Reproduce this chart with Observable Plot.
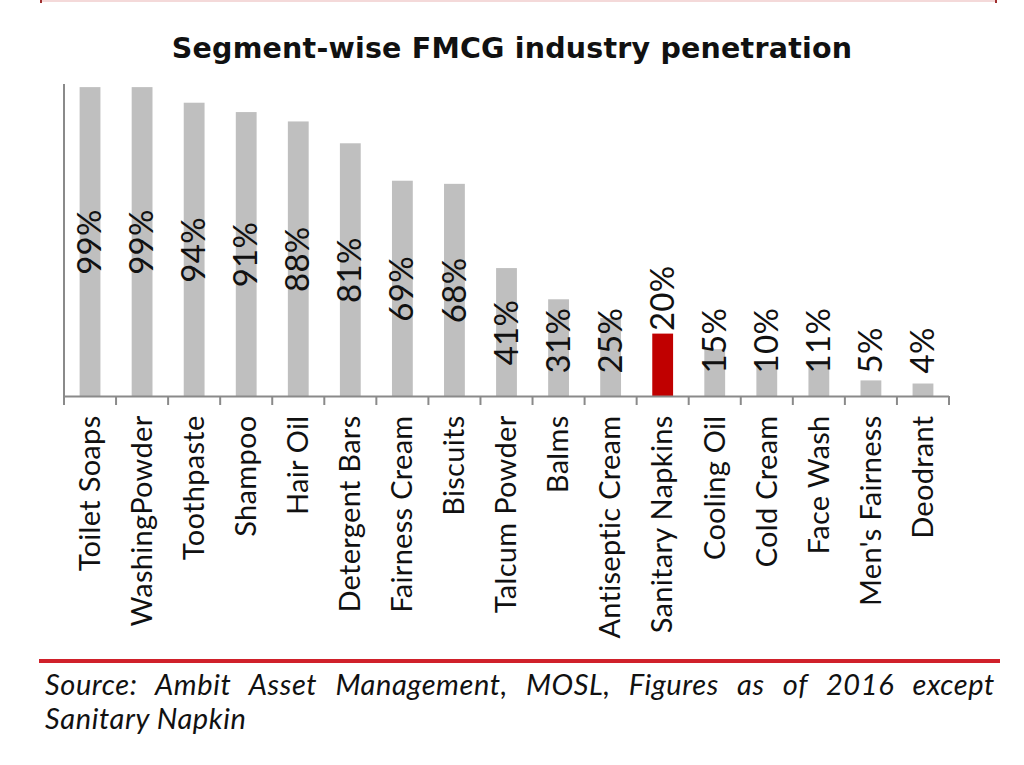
<!DOCTYPE html>
<html><head><meta charset="utf-8">
<script src="https://cdn.jsdelivr.net/npm/d3@7"></script>
<script src="https://cdn.jsdelivr.net/npm/@observablehq/plot@0.6"></script>
<style>
html,body{margin:0;padding:0;background:#fff;}
body{width:1024px;height:765px;position:relative;overflow:hidden;}
#topline{position:absolute;left:40px;top:0;width:957px;height:2px;background:#f4d9d9;}
#topline:before,#topline:after{content:"";position:absolute;top:-1px;width:2px;height:4px;background:#a03030;}
#topline:before{left:0;} #topline:after{right:0;}
#title{position:absolute;left:0;top:31px;width:1024px;text-align:center;font-family:"DejaVu Sans";font-weight:bold;font-size:28.5px;letter-spacing:0.2px;color:#111;line-height:36px;white-space:nowrap;}
#chart{position:absolute;left:0;top:75px;}
#chart svg text{letter-spacing:0.3px;}
#rule{position:absolute;left:39px;top:659px;width:961px;height:4px;background:#d0202a;}
.cap{position:absolute;left:45px;width:950px;font-family:Lato;font-style:italic;font-size:29px;letter-spacing:0.6px;line-height:34px;color:#111;white-space:nowrap;}
#cap1{top:667px;text-align:justify;text-align-last:justify;}
#cap2{top:701px;text-align:left;}
</style>
</head><body>
<div id="topline"></div>
<div id="title">Segment-wise FMCG industry penetration</div>
<div id="chart"></div>
<div id="rule"></div>
<div class="cap" id="cap1">Source: Ambit Asset Management, MOSL, Figures as of 2016 except</div>
<div class="cap" id="cap2">Sanitary Napkin</div>
<script>
const categories = ["Toilet Soaps","WashingPowder","Toothpaste","Shampoo","Hair Oil","Detergent Bars","Fairness Cream","Biscuits","Talcum Powder","Balms","Antiseptic Cream","Sanitary Napkins","Cooling Oil","Cold Cream","Face Wash","Men's Fairness","Deodrant"];
const values = [99,99,94,91,88,81,69,68,41,31,25,20,15,10,11,5,4];
const highlighted = ["Sanitary Napkins"];

const data = categories.map((c, i) => ({category: c, value: values[i], hi: highlighted.includes(c)}));
const fmt = d => d.value + "%";
const labelFont = {fontSize: 33, fontFamily: "Lato", fill: "#111", rotate: -90};

const plot = Plot.plot({
  width: 1024, height: 579,
  marginTop: 9, marginBottom: 258, marginLeft: 64, marginRight: 75,
  style: {fontFamily: "Lato", background: "transparent"},
  x: {domain: categories, paddingInner: 0.6, paddingOuter: 0.3, round: false, axis: null},
  y: {domain: [0, 100], axis: null},
  marks: [
    Plot.barY(data.filter(d => !d.hi), {x: "category", y: "value", fill: "#bfbfbf"}),
    Plot.barY(data.filter(d => d.hi), {x: "category", y: "value", fill: "#c00000"}),
    Plot.ruleY([0], {stroke: "#8a8a8a", strokeWidth: 2}),
    Plot.axisX({label: null, tickSize: 0, tickRotate: -90, tickPadding: 19, fontSize: 29, fontFamily: "Lato", color: "#111"}),
    Plot.text(data.filter(d => !d.hi && d.value / 2 >= 18), {x: "category", y: d => d.value / 2, text: fmt, textAnchor: "middle", ...labelFont}),
    Plot.text(data.filter(d => !d.hi && d.value / 2 < 18), {x: "category", y: () => 0, dy: -23, text: fmt, textAnchor: "start", ...labelFont}),
    Plot.text(data.filter(d => d.hi), {x: "category", y: "value", dy: -3, text: fmt, textAnchor: "start", ...labelFont})
  ]
});

// axis lines and category boundary ticks, placed with the plot's own scales
const xs = plot.scale("x"), ys = plot.scale("y");
const r0 = xs.range[0], step = xs.step;
const y0 = ys.apply(0);
const g = d3.select(plot).append("g").attr("stroke", "#8a8a8a").attr("stroke-width", 2);
for (let i = 0; i <= categories.length; i++) {
  g.append("line").attr("x1", r0 + i * step).attr("x2", r0 + i * step).attr("y1", y0).attr("y2", y0 + 9);
}
g.append("line").attr("x1", r0).attr("x2", r0).attr("y1", ys.apply(100)).attr("y2", y0);

document.getElementById("chart").appendChild(plot);
</script>
</body></html>
